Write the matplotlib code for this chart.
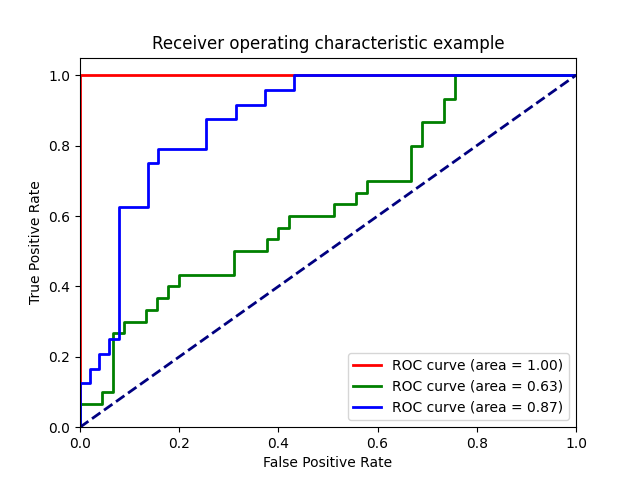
import matplotlib
matplotlib.use("Agg")
import matplotlib.pyplot as plt

# ROC corner points (drawn with steps-post)
red_fpr = [0.0, 0.0, 1.0]
red_tpr = [0.0, 1.0, 1.0]

green_fpr = [0.0, 0.0, 0.0444, 0.0667, 0.0889, 0.1333, 0.1556, 0.1778, 0.2, 0.3111,
             0.3778, 0.4, 0.4222, 0.5111, 0.5556, 0.5778, 0.6667, 0.6889, 0.7333, 0.7556, 1.0]
green_tpr = [0.0, 0.0667, 0.1, 0.2667, 0.3, 0.3333, 0.3667, 0.4, 0.4333, 0.5,
             0.5333, 0.5667, 0.6, 0.6333, 0.6667, 0.7, 0.8, 0.8667, 0.9333, 1.0, 1.0]

blue_fpr = [0.0, 0.0, 0.0196, 0.0392, 0.0588, 0.0784, 0.1373, 0.1569, 0.2549, 0.3137,
            0.3725, 0.4314, 1.0]
blue_tpr = [0.0, 0.125, 0.1667, 0.2083, 0.25, 0.625, 0.75, 0.7917, 0.875, 0.9167,
            0.9583, 1.0, 1.0]

areas = [1.00, 0.63, 0.87]
colors = ["red", "green", "blue"]

fig, ax = plt.subplots(figsize=(6.4, 4.8), dpi=100)
curves = [(red_fpr, red_tpr), (green_fpr, green_tpr), (blue_fpr, blue_tpr)]
for (fx, ty), a, c in zip(curves, areas, colors):
    ax.plot(fx, ty, color=c, lw=2, drawstyle="steps-post",
            label="ROC curve (area = %0.2f)" % a)
ax.plot([0, 1], [0, 1], color="navy", lw=2, linestyle="--")
ax.set_xlim([0.0, 1.0])
ax.set_ylim([0.0, 1.05])
ax.set_xlabel("False Positive Rate")
ax.set_ylabel("True Positive Rate")
ax.set_title("Receiver operating characteristic example")
ax.legend(loc="lower right")
fig.savefig("out.png", dpi=100)
